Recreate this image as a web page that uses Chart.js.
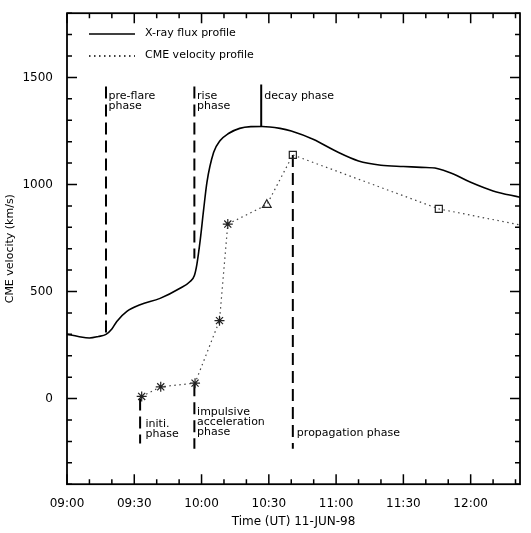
<!DOCTYPE html>
<html>
<head>
<meta charset="utf-8">
<script src="https://cdn.jsdelivr.net/npm/chart.js@4"></script>
<style>
  html, body { margin: 0; padding: 0; background: #fff; }
  #wrap { width: 531px; height: 533px; }
</style>
</head>
<body>
<div id="wrap"><canvas id="c" width="531" height="533"></canvas></div>
<script>
// minutes after 09:00 UT
const xrayTime = [0, 5, 10, 14, 17.4, 20, 22.2, 26.7, 32.6, 41.5, 50.4, 54.9, 56.8, 57.9, 59.4, 60.9, 62.4, 65.4, 68.3, 72, 77, 82, 87, 95, 100, 110, 120, 130, 140, 150, 158, 165, 172, 180, 190, 202];
const xrayValue = [300, 290, 283, 290, 300, 325, 360, 407, 438, 468, 515, 547, 575, 626, 740, 880, 1010, 1150, 1205, 1238, 1262, 1270, 1271, 1262, 1250, 1210, 1155, 1110, 1090, 1084, 1080, 1075, 1050, 1010, 970, 940];

const cmeTime = [33.3, 41.8, 57.1, 68, 71.7, 89.1, 100.7, 165.8, 202];
const cmeValue = [10, 55, 72, 364, 815, 905, 1138, 886, 811];
const cmeMarker = ['star', 'star', 'star', 'star', 'star', 'triangle', 'rect', 'rect', false];

const xTicks = [0, 30, 60, 90, 120, 150, 180];
const xTickLabels = ['09:00', '09:30', '10:00', '10:30', '11:00', '11:30', '12:00'];
const yTicks = [0, 500, 1000, 1500];

// phase marker lines: [time, from, to, dash]
const phaseLines = [
  [17.4, 1458, 300, [12, 6]],
  [56.8, 1458, 654, [12, 6]],
  [86.6, 1467, 1271, []],
  [100.7, 1138, -234, [12, 6]],
  [32.6, 0, -210, [12, 6]],
  [56.8, 67, -234, [12, 6]]
];

const phaseLabels = [
  [18.5, 1440, ['pre-flare', 'phase']],
  [58.0, 1440, ['rise', 'phase']],
  [88.0, 1440, ['decay phase']],
  [35.0, -95, ['initi.', 'phase']],
  [58.0, -40, ['impulsive', 'acceleration', 'phase']],
  [102.5, -135, ['propagation phase']]
];

const FONT = '"DejaVu Sans", sans-serif';

const datasets = [
  {
    data: xrayTime.map((t, i) => ({ x: t, y: xrayValue[i] })),
    showLine: true, borderColor: '#000', borderWidth: 1.6, pointRadius: 0, cubicInterpolationMode: 'monotone'
  },
  {
    data: cmeTime.map((t, i) => ({ x: t, y: cmeValue[i] })),
    showLine: true, borderColor: '#444', borderWidth: 1.2, borderDash: [1.5, 3.5],
    pointStyle: cmeMarker, pointRadius: cmeMarker.map(m => m ? 5 : 0),
    pointBorderColor: '#222', pointBackgroundColor: 'rgba(0,0,0,0)', pointBorderWidth: 1.2
  }
];
phaseLines.forEach(p => datasets.push({
  data: [{ x: p[0], y: p[1] }, { x: p[0], y: p[2] }],
  showLine: true, borderColor: '#000', borderWidth: 2, borderDash: p[3], pointRadius: 0
}));

const decorPlugin = {
  id: 'decor',
  afterDraw(chart) {
    const { ctx, chartArea: a, scales: { x, y } } = chart;
    ctx.save();
    ctx.setLineDash([]);
    ctx.strokeStyle = '#000';
    ctx.lineWidth = 1.8;
    ctx.strokeRect(a.left, a.top, a.right - a.left, a.bottom - a.top);
    ctx.lineWidth = 1.5;
    ctx.beginPath();
    for (let t = 0; t <= 202; t += 10) {
      const px = x.getPixelForValue(t);
      const len = t % 30 === 0 ? 10 : 5;
      ctx.moveTo(px, a.bottom); ctx.lineTo(px, a.bottom - len);
      ctx.moveTo(px, a.top); ctx.lineTo(px, a.top + len);
    }
    for (let v = -400; v <= 1800; v += 100) {
      const py = y.getPixelForValue(v);
      const len = v % 500 === 0 ? 10 : 5;
      ctx.moveTo(a.left, py); ctx.lineTo(a.left + len, py);
      ctx.moveTo(a.right, py); ctx.lineTo(a.right - len, py);
    }
    ctx.stroke();

    // legend
    ctx.lineWidth = 1.6;
    ctx.beginPath(); ctx.moveTo(89, 34); ctx.lineTo(135, 34); ctx.stroke();
    ctx.lineWidth = 1.3;
    ctx.setLineDash([1.5, 3.5]);
    ctx.beginPath(); ctx.moveTo(89, 56); ctx.lineTo(135, 56); ctx.stroke();
    ctx.setLineDash([]);
    ctx.fillStyle = '#000';
    ctx.font = '11px ' + FONT;
    ctx.textBaseline = 'middle';
    ctx.fillText('X-ray flux profile', 145, 33);
    ctx.fillText('CME velocity profile', 145, 55);

    // phase labels
    ctx.textBaseline = 'top';
    phaseLabels.forEach(([t, v, lines]) => {
      const px = x.getPixelForValue(t), py = y.getPixelForValue(v);
      lines.forEach((s, i) => ctx.fillText(s, px, py + i * 10));
    });
    ctx.restore();
  }
};

new Chart(document.getElementById('c'), {
  type: 'scatter',
  data: { datasets },
  options: {
    responsive: false,
    animation: false,
    layout: { padding: { top: 12, right: 11, left: 0, bottom: 0 } },
    plugins: { legend: { display: false }, tooltip: { enabled: false } },
    scales: {
      x: {
        type: 'linear', min: 0, max: 202,
        afterBuildTicks: s => { s.ticks = xTicks.map(v => ({ value: v })); },
        ticks: { color: '#000', font: { size: 12, family: FONT }, padding: 4,
          callback: v => xTickLabels[xTicks.indexOf(v)] },
        grid: { display: false }, border: { display: false },
        title: { display: true, text: 'Time (UT) 11-JUN-98', color: '#000', font: { size: 12, family: FONT }, padding: { top: 0 } }
      },
      y: {
        type: 'linear', min: -400, max: 1800,
        afterBuildTicks: s => { s.ticks = yTicks.map(v => ({ value: v })); },
        ticks: { color: '#000', font: { size: 12, family: FONT }, padding: 6, callback: v => String(v) },
        grid: { display: false }, border: { display: false },
        afterFit: s => { s.width = 67; },
        title: { display: true, text: 'CME velocity (km/s)', color: '#000', font: { size: 11, family: FONT } }
      }
    }
  },
  plugins: [decorPlugin]
});
</script>
</body>
</html>
